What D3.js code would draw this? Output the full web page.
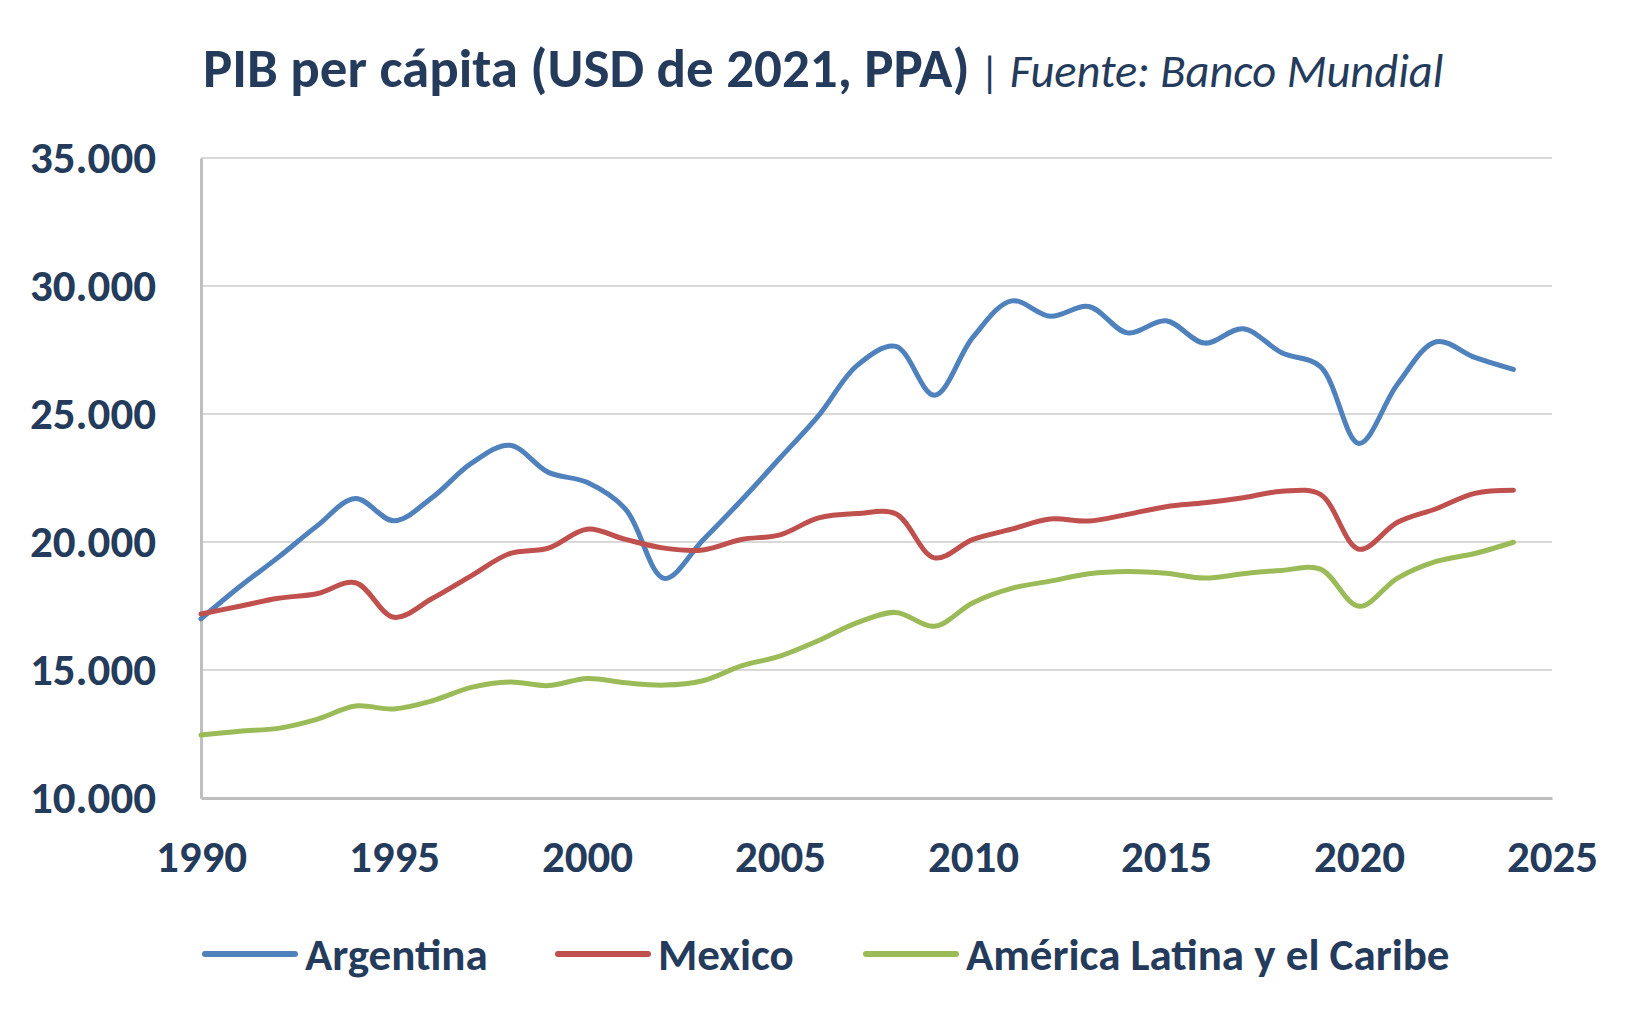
<!DOCTYPE html>
<html>
<head>
<meta charset="utf-8">
<script src="https://cdn.jsdelivr.net/npm/d3@7"></script>
<style>
  body { margin: 0; background: #fff; }
  text { font-family: Carlito, "Liberation Sans Narrow", Lato, "Open Sans", sans-serif; fill: #243b5c; }
</style>
</head>
<body>
<div id="chart"></div>
<script>
// datos (USD de 2021, PPA)
var years = d3.range(1990, 2025);
var argentina = [17000, 18250, 19400, 20620, 21700, 20830, 21750, 23070, 23780, 22720,
    22330, 21280, 18580, 20070, 21630, 23280, 24940, 26900, 27640, 25730,
    28000, 29420, 28820, 29200, 28170, 28640, 27770, 28330, 27390, 26850,
    23850, 26170, 27820, 27210, 26740];
var mexico = [17190, 17490, 17800, 17980, 18410, 17060, 17800, 18680, 19550, 19760,
    20500, 20100, 19760, 19690, 20100, 20280, 20940, 21110, 21100, 19380,
    20100, 20500, 20900, 20820, 21080, 21380, 21530, 21730, 21980, 21860,
    19720, 20770, 21300, 21900, 22020];
var latam = [12460, 12610, 12720, 13070, 13590, 13480, 13800, 14320, 14530, 14390,
    14670, 14500, 14410, 14580, 15160, 15540, 16150, 16850, 17250, 16710,
    17630, 18190, 18470, 18760, 18850, 18780, 18590, 18760, 18890, 18940,
    17490, 18590, 19240, 19550, 19990];
var seriesNames = ['Argentina', 'Mexico', 'América Latina y el Caribe'];
var seriesColors = ['#4f81bd', '#c0504d', '#9bbb59'];
var yTicks = [10000, 15000, 20000, 25000, 30000, 35000];
var xTicks = [1990, 1995, 2000, 2005, 2010, 2015, 2020, 2025];

var width = 1650, height = 1024;
var svg = d3.select('#chart').append('svg')
    .attr('width', width)
    .attr('height', height);

var x = d3.scaleLinear().domain([1990, 2025]).range([201, 1552]);
var y = d3.scaleLinear().domain([10000, 35000]).range([798, 158]);

// titulo
var title = svg.append('text')
    .attr('x', 203)
    .attr('y', 87)
    .style('font-size', '55px');
title.append('tspan').style('font-weight', 'bold').text('PIB per cápita (USD de 2021, PPA)');
title.append('tspan').style('font-size', '44px').text(' | ');
title.append('tspan').style('font-style', 'italic').style('font-size', '46.5px').text('Fuente: Banco Mundial');

// rejilla
svg.append('g').selectAll('line')
    .data(yTicks.slice(1))
    .enter().append('line')
    .attr('x1', x(1990)).attr('x2', x(2025))
    .attr('y1', function (d) { return y(d); })
    .attr('y2', function (d) { return y(d); })
    .style('stroke', '#d9d9d9')
    .style('stroke-width', 2);

// ejes
var fmt = function (d) { return d3.format(',')(d).replace(/,/g, '.'); };
var yAxis = svg.append('g')
    .attr('transform', 'translate(' + x(1990) + ',0)')
    .call(d3.axisLeft(y).tickValues(yTicks).tickFormat(fmt).tickSize(0).tickPadding(45));
var xAxis = svg.append('g')
    .attr('transform', 'translate(0,' + y(10000) + ')')
    .call(d3.axisBottom(x).tickValues(xTicks).tickFormat(d3.format('d')).tickSize(0).tickPadding(42));
[yAxis, xAxis].forEach(function (a) {
    a.select('.domain').style('stroke', '#bfbfbf').style('stroke-width', 3);
    a.selectAll('text').style('font-size', '45px').style('font-weight', 'bold').style('fill', '#243b5c');
});

// lineas
var line = d3.line()
    .x(function (d, i) { return x(years[i]); })
    .y(function (d) { return y(d); })
    .curve(d3.curveCatmullRom.alpha(0.5));
[argentina, mexico, latam].forEach(function (s, i) {
    svg.append('path')
        .datum(s)
        .attr('d', line)
        .style('fill', 'none')
        .style('stroke', seriesColors[i])
        .style('stroke-width', 5)
        .style('stroke-linecap', 'round')
        .style('stroke-linejoin', 'round');
});

// leyenda
var legendX = [205, 558, 866];
var legend = svg.append('g').selectAll('g')
    .data(seriesNames)
    .enter().append('g')
    .attr('transform', function (d, i) { return 'translate(' + legendX[i] + ',954)'; });
legend.append('line')
    .attr('x1', 0).attr('x2', 90)
    .style('stroke', function (d, i) { return seriesColors[i]; })
    .style('stroke-width', 6)
    .style('stroke-linecap', 'round');
legend.append('text')
    .attr('x', 100)
    .attr('dy', '0.35em')
    .style('font-size', '45px')
    .style('font-weight', 'bold')
    .text(function (d) { return d; });
</script>
</body>
</html>
